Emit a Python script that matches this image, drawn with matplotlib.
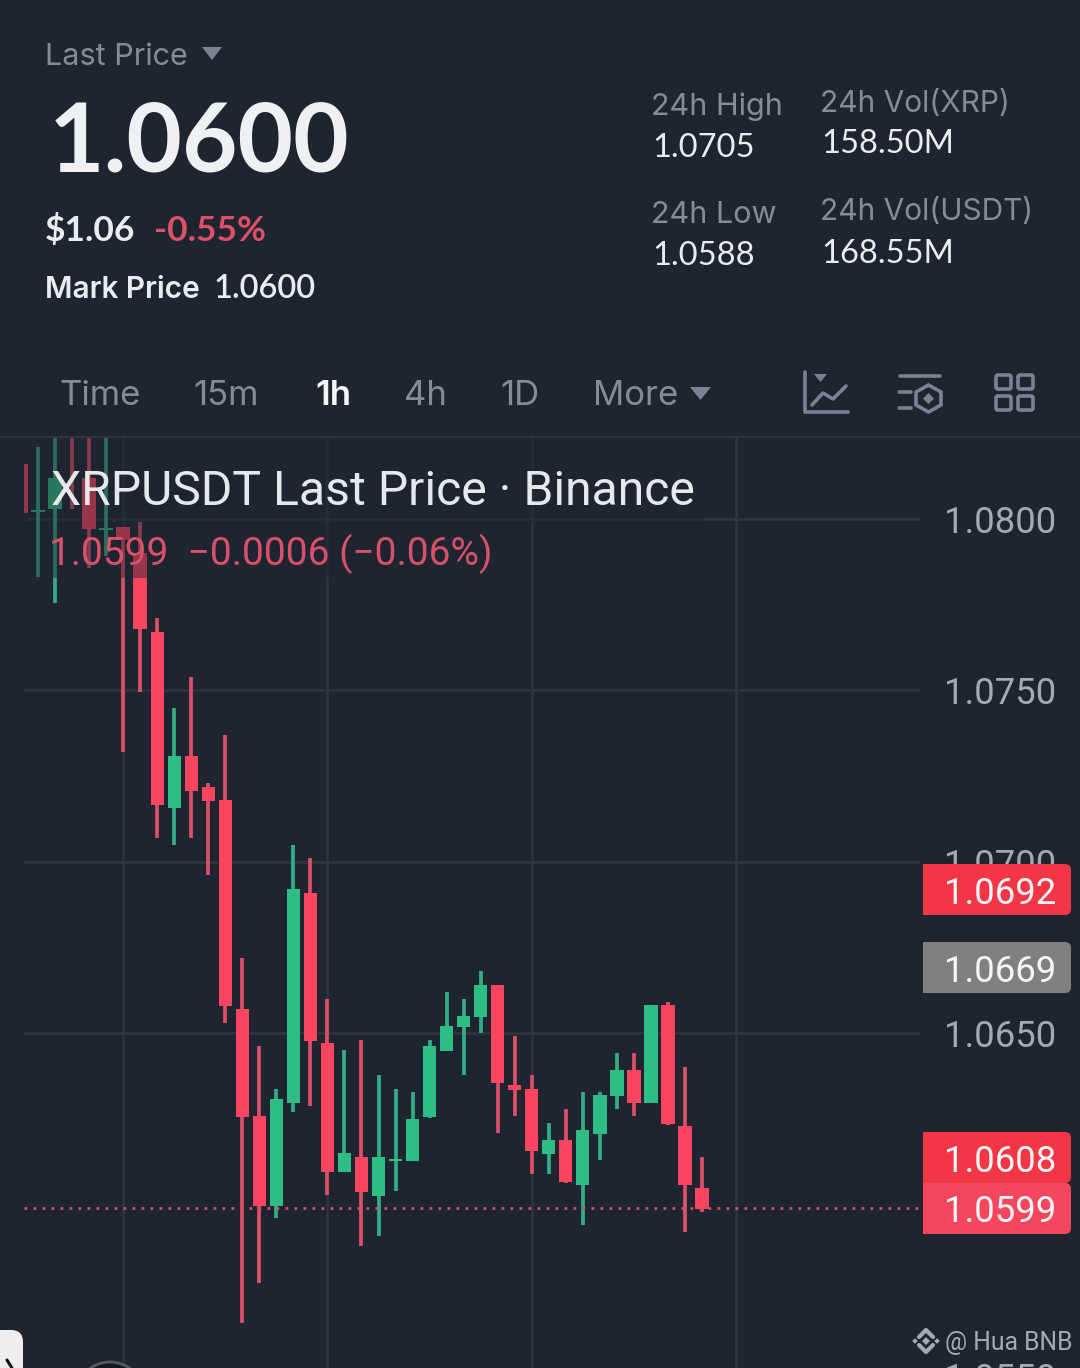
import numpy as np
import matplotlib
matplotlib.use("Agg")
import matplotlib.pyplot as plt
from matplotlib.patches import Rectangle, FancyBboxPatch, Polygon, Ellipse
from matplotlib.transforms import blended_transform_factory

# --- Hourly candles ---
opens = [1.08160, 1.08020, 1.08029, 1.08270, 1.08120, 1.07968, 1.07977, 1.07901, 1.07670, 1.07157,
         1.07309, 1.07218, 1.07180, 1.06571, 1.06259, 1.05996, 1.06296, 1.06909, 1.06471, 1.06095,
         1.06139, 1.06025, 1.06127, 1.06127, 1.06256, 1.06448, 1.06518, 1.06547, 1.06641, 1.06349,
         1.06337, 1.06148, 1.06189, 1.06057, 1.06206, 1.06317, 1.06393, 1.06296, 1.06582, 1.06229,
         1.06049]
closes = [1.08018, 1.08026, 1.08120, 1.08265, 1.07971, 1.07974, 1.07939, 1.07679, 1.07166, 1.07309,
          1.07207, 1.07177, 1.06579, 1.06256, 1.05996, 1.06308, 1.06921, 1.06477, 1.06095, 1.06151,
          1.06037, 1.06139, 1.06133, 1.06250, 1.06463, 1.06521, 1.06550, 1.06641, 1.06355, 1.06334,
          1.06156, 1.06189, 1.06066, 1.06218, 1.06320, 1.06393, 1.06296, 1.06582, 1.06235, 1.06057,
          1.05987]
highs = [1.08160, 1.08210, 1.08260, 1.08270, 1.08260, 1.08260, 1.07977, 1.07991, 1.07711, 1.07449,
         1.07539, 1.07230, 1.07370, 1.06719, 1.06463, 1.06337, 1.07049, 1.07011, 1.06600, 1.06451,
         1.06480, 1.06378, 1.06337, 1.06329, 1.06480, 1.06620, 1.06600, 1.06682, 1.06641, 1.06492,
         1.06378, 1.06238, 1.06279, 1.06329, 1.06329, 1.06442, 1.06442, 1.06582, 1.06591, 1.06401,
         1.06139]
lows = [1.08018, 1.07831, 1.07755, 1.08029, 1.07857, 1.07892, 1.07320, 1.07495, 1.07069, 1.07049,
        1.07069, 1.06962, 1.06530, 1.05655, 1.05771, 1.05961, 1.06270, 1.06288, 1.06028, 1.06095,
        1.05879, 1.05908, 1.06040, 1.06127, 1.06253, 1.06448, 1.06378, 1.06501, 1.06209, 1.06259,
        1.06089, 1.06089, 1.06063, 1.05941, 1.06130, 1.06279, 1.06259, 1.06296, 1.06232, 1.05920,
        1.05979]

price_ticks = [1.0800, 1.0750, 1.0700, 1.0650, 1.0550]
time_grid = [6, 18, 30, 42]
last_close = 1.0599

tag_labels = ["1.0692", "1.0669", "1.0608", "1.0599"]
tag_colors = ["#F23645", "#808080", "#F23645", "#F6465D"]
tag_centers = [889.5, 967.5, 1157.5, 1208.5]

periods = ["Time", "15m", "1h", "4h", "1D", "More"]
period_x = [59, 193, 315, 404, 500, 593]

# --- Colours ---
bg = "#1E2430"
grid = "#2F3540"
red = "#FB4460"
red_wick = "#DC4F69"
green = "#2EBD85"
green_wick = "#35AD84"
muted = "#858C98"
icon = "#7B8290"
bright = "#EAECEF"
red_text = "#DE5067"

W, H = 1080, 1368
fig = plt.figure(figsize=(W / 100, H / 100), dpi=100, facecolor=bg)

# --- Price chart ---
top_px, left_px, right_px = 438, 24, 920
ax = fig.add_axes([left_px / W, 0, (right_px - left_px) / W, (H - top_px) / H], facecolor=bg, zorder=1)
for side in ax.spines.values():
    side.set_visible(False)
ax.set_xticks(time_grid)
ax.set_yticks(price_ticks)
ax.tick_params(length=0, labelbottom=False, labelleft=False)
ax.set_axisbelow(True)
ax.grid(True, color=grid, linewidth=1.8)

idx = np.arange(len(opens))
o, c = np.array(opens), np.array(closes)
up = c >= o
ax.vlines(idx[up], np.array(lows)[up], np.array(highs)[up], color=green_wick, linewidth=2.7, zorder=2)
ax.vlines(idx[~up], np.array(lows)[~up], np.array(highs)[~up], color=red_wick, linewidth=2.7, zorder=2)
ax.bar(idx, np.maximum(np.abs(c - o), 0.00006), bottom=np.minimum(o, c), width=0.78,
       color=[green if u else red for u in up], zorder=3)
ax.axhline(last_close, color="#D0506A", linewidth=2.0, linestyle=(0, (1, 2.24)), zorder=4)

# limits last: set_yticks would otherwise stretch them to take in 1.0550
ax.set_xlim(0.18, 52.80)
ax.set_ylim(1.05523, 1.08236)

ticks_tf = blended_transform_factory(fig.transFigure, ax.transData)
for p in price_ticks:
    ax.text(944 / W, p, f"{p:.4f}", transform=ticks_tf, clip_on=False, family="Roboto", fontsize=26.3,
            color="#A4A9B2", va="center_baseline", ha="left")

# --- Screen furniture, drawn in pixel coordinates ---
ui = fig.add_axes([0, 0, 1, 1], zorder=2)
ui.set_xlim(0, W)
ui.set_ylim(H, 0)
ui.axis("off")


def label(x, y, s, size, color, family="Inter", weight="normal"):
    ui.text(x, y, s, fontsize=size, color=color, family=family, weight=weight, va="baseline", ha="left")


def stroke(xs, ys, color=icon, lw=2.6):
    ui.plot(xs, ys, color=color, linewidth=lw, solid_capstyle="round", solid_joinstyle="round")


def triangle(x0, x1, y0, y1):
    ui.add_patch(Polygon([(x0, y0), (x1, y0), ((x0 + x1) / 2, y1)], closed=True, color=icon, lw=0))


# header
label(45, 65, "Last Price", 22, muted)
triangle(202, 222, 47, 60)
label(49, 172, "1.0600", 69, "#EEF0F3", family="Lato", weight="bold")
label(45, 241, "$1.06", 25.5, bright, family="Lato", weight="bold")
label(154, 241, "-0.55%", 25.5, red_text, family="Lato", weight="bold")
label(45, 298, "Mark Price", 21.5, bright, weight="semibold")
label(214, 298, "1.0600", 23.5, bright, family="Lato", weight="semibold")

label(651, 115, "24h High", 22, muted)
label(652, 157, "1.0705", 23.5, bright, family="Lato")
label(651, 223, "24h Low", 22, muted)
label(652, 265, "1.0588", 23.5, bright, family="Lato")
label(820, 112, "24h Vol(XRP)", 21.5, muted)
label(821, 153, "158.50M", 23.5, bright, family="Lato")
label(820, 220, "24h Vol(USDT)", 21.5, muted)
label(821, 263, "168.55M", 23.5, bright, family="Lato")

# period row
for name, x in zip(periods, period_x):
    active = name == "1h"
    label(x, 405, name, 25, "#F4F5F7" if active else muted, weight="semibold" if active else "normal")
triangle(690, 711, 387, 400)

stroke([805, 805, 848], [372, 412, 412])
stroke([812, 823, 833, 846], [405, 393, 399, 386])
triangle(814, 827, 374, 382)

stroke([900, 940], [376, 376])
stroke([899, 911], [392, 392])
stroke([899, 911], [408, 408])
ui.add_patch(Polygon([(928.5, 385), (941, 392), (941, 405), (928.5, 412), (916, 405), (916, 392)],
                     closed=True, fill=False, edgecolor=icon, linewidth=2.6))
ui.add_patch(Polygon([(928.5, 393), (934, 398.5), (928.5, 404), (923, 398.5)], closed=True, color=icon, lw=0))

for x0 in (995, 1017):
    for y0 in (374, 395):
        ui.add_patch(FancyBboxPatch((x0 + 1, y0 + 1), 15, 14, boxstyle="round,pad=0,rounding_size=2",
                                    fill=False, edgecolor=icon, linewidth=2.6))

ui.plot([0, W], [437, 437], color=grid, linewidth=1.6)

# legend strip dims the candles below it
ui.add_patch(Rectangle((24, 438), 682, 85, facecolor=bg, alpha=0.45, lw=0))
ui.add_patch(Rectangle((24, 523), 476, 55, facecolor=bg, alpha=0.45, lw=0))
label(51, 505, "XRPUSDT Last Price · Binance", 34.65, "#E6E8EC", family="Roboto")
label(49, 565, "1.0599  \u22120.0006 (\u22120.06%)", 28, "#D9506A", family="Roboto")

# price tags
for text, color, cy in zip(tag_labels, tag_colors, tag_centers):
    ui.add_patch(FancyBboxPatch((923, cy - 25.5), 148, 51, boxstyle="round,pad=0,rounding_size=6",
                                facecolor=color, edgecolor="none"))
    ui.add_patch(Rectangle((923, cy - 25.5), 12, 51, facecolor=color, lw=0))
    ui.text(944, cy, text, fontsize=26.3, color="#F5F5F5", family="Roboto", va="center_baseline", ha="left")

# watermark
wm = "#A4A9B2"
cx, cy = 926, 1341
stroke([cx - 7, cx, cx + 7], [cy - 4, cy - 11, cy - 4], wm, 3)
stroke([cx - 7, cx, cx + 7], [cy + 4, cy + 11, cy + 4], wm, 3)
for dx, r in ((-11, 2.8), (0, 4), (11, 2.8)):
    ui.add_patch(Polygon([(cx + dx, cy - r), (cx + dx + r, cy), (cx + dx, cy + r), (cx + dx - r, cy)],
                         closed=True, color=wm, lw=0))
label(945, 1350, "@ Hua BNB", 17.8, wm, family="Roboto")

# bits of the phone UI cut off at the bottom
ui.add_patch(FancyBboxPatch((-20, 1330), 43, 80, boxstyle="round,pad=0,rounding_size=12",
                            facecolor="#EEEEEE", edgecolor="none"))
stroke([7, 12], [1360, 1368], "#111111", 2.2)
ui.add_patch(Ellipse((110, 1398), 70, 72, facecolor="#15181E", edgecolor="#555A60", linewidth=2))

fig.savefig("out.png", dpi=100, facecolor=bg)
